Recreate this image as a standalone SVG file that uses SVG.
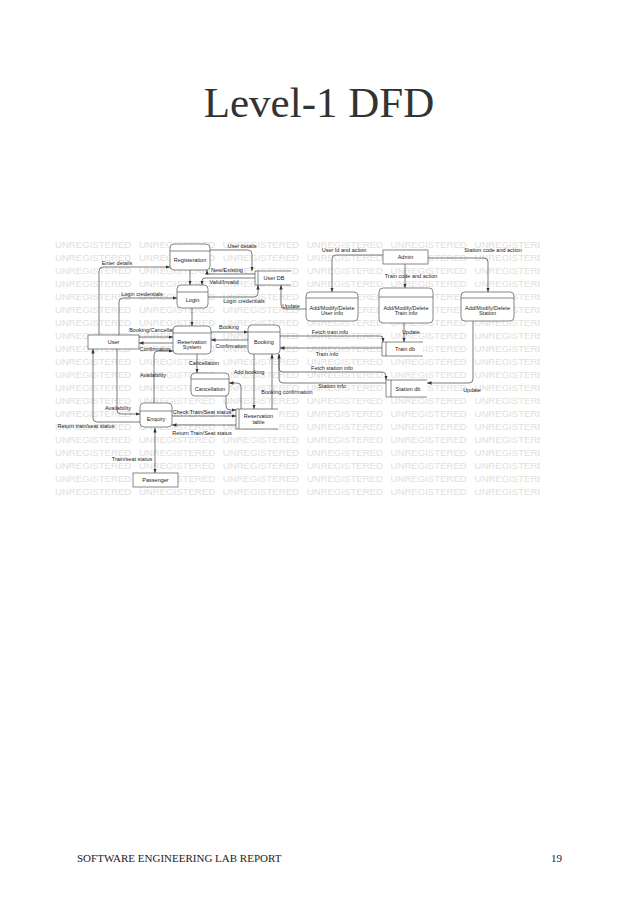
<svg xmlns="http://www.w3.org/2000/svg" width="638" height="903" viewBox="0 0 638 903">
<defs>
<marker id="a" viewBox="0 0 8 6" refX="8" refY="3" markerWidth="4.5" markerHeight="3.4" orient="auto-start-reverse" markerUnits="userSpaceOnUse"><path d="M0,0 L8,3 L0,6 z" fill="#333"/></marker>
<clipPath id="wmclip"><rect x="55" y="236" width="485" height="262"/></clipPath>
<style>
.n rect,.n line{fill:#fff;stroke:#555;stroke-width:0.7}
.ds rect{fill:#fff;stroke:none}
.ds path{fill:none;stroke:#555;stroke-width:0.7}
.t{font-family:"Liberation Sans",Arial,sans-serif;font-size:5.5px;fill:#222;text-anchor:middle}
.c path{fill:none;stroke:#444;stroke-width:0.7;marker-end:url(#a)}
.lbl{font-family:"Liberation Sans",Arial,sans-serif;font-size:5.5px;fill:#222;text-anchor:middle}
.wm{font-family:"Liberation Sans",Arial,sans-serif;font-size:9.6px;fill:#e0e0e0;word-spacing:5px}
</style>
</defs>
<rect width="638" height="903" fill="#fff"/>
<text x="319" y="117" font-family="Liberation Serif,'Times New Roman',serif" font-size="43" fill="#333" text-anchor="middle">Level-1 DFD</text>

<g id="watermark" clip-path="url(#wmclip)">
<text class="wm" x="55" y="247.6">UNREGISTERED UNREGISTERED UNREGISTERED UNREGISTERED UNREGISTERED UNREGISTERED</text>
<text class="wm" x="55" y="260.6">UNREGISTERED UNREGISTERED UNREGISTERED UNREGISTERED UNREGISTERED UNREGISTERED</text>
<text class="wm" x="55" y="273.6">UNREGISTERED UNREGISTERED UNREGISTERED UNREGISTERED UNREGISTERED UNREGISTERED</text>
<text class="wm" x="55" y="286.6">UNREGISTERED UNREGISTERED UNREGISTERED UNREGISTERED UNREGISTERED UNREGISTERED</text>
<text class="wm" x="55" y="299.6">UNREGISTERED UNREGISTERED UNREGISTERED UNREGISTERED UNREGISTERED UNREGISTERED</text>
<text class="wm" x="55" y="312.6">UNREGISTERED UNREGISTERED UNREGISTERED UNREGISTERED UNREGISTERED UNREGISTERED</text>
<text class="wm" x="55" y="325.6">UNREGISTERED UNREGISTERED UNREGISTERED UNREGISTERED UNREGISTERED UNREGISTERED</text>
<text class="wm" x="55" y="338.6">UNREGISTERED UNREGISTERED UNREGISTERED UNREGISTERED UNREGISTERED UNREGISTERED</text>
<text class="wm" x="55" y="351.6">UNREGISTERED UNREGISTERED UNREGISTERED UNREGISTERED UNREGISTERED UNREGISTERED</text>
<text class="wm" x="55" y="364.6">UNREGISTERED UNREGISTERED UNREGISTERED UNREGISTERED UNREGISTERED UNREGISTERED</text>
<text class="wm" x="55" y="377.6">UNREGISTERED UNREGISTERED UNREGISTERED UNREGISTERED UNREGISTERED UNREGISTERED</text>
<text class="wm" x="55" y="390.6">UNREGISTERED UNREGISTERED UNREGISTERED UNREGISTERED UNREGISTERED UNREGISTERED</text>
<text class="wm" x="55" y="403.6">UNREGISTERED UNREGISTERED UNREGISTERED UNREGISTERED UNREGISTERED UNREGISTERED</text>
<text class="wm" x="55" y="416.6">UNREGISTERED UNREGISTERED UNREGISTERED UNREGISTERED UNREGISTERED UNREGISTERED</text>
<text class="wm" x="55" y="429.6">UNREGISTERED UNREGISTERED UNREGISTERED UNREGISTERED UNREGISTERED UNREGISTERED</text>
<text class="wm" x="55" y="442.6">UNREGISTERED UNREGISTERED UNREGISTERED UNREGISTERED UNREGISTERED UNREGISTERED</text>
<text class="wm" x="55" y="455.6">UNREGISTERED UNREGISTERED UNREGISTERED UNREGISTERED UNREGISTERED UNREGISTERED</text>
<text class="wm" x="55" y="468.6">UNREGISTERED UNREGISTERED UNREGISTERED UNREGISTERED UNREGISTERED UNREGISTERED</text>
<text class="wm" x="55" y="481.6">UNREGISTERED UNREGISTERED UNREGISTERED UNREGISTERED UNREGISTERED UNREGISTERED</text>
<text class="wm" x="55" y="494.6">UNREGISTERED UNREGISTERED UNREGISTERED UNREGISTERED UNREGISTERED UNREGISTERED</text>
</g>

<g id="connectors" class="c">
<path d="M99,335 V271 Q99,267 103,267 H170"/>
<path d="M119,335 V302 Q119,298 123,298 H177"/>
<path d="M139,337 H173"/>
<path d="M173,343 H139"/>
<path d="M211,332 H248"/>
<path d="M248,340 H211"/>
<path d="M190,270 V285"/>
<path d="M255,278 H205 Q202,278 202,281 V285"/>
<path d="M255,274 H207 V270"/>
<path d="M210,250 H248 Q252,250 252,254 V271"/>
<path d="M208,297 H254 Q258,297 258,293 V285"/>
<path d="M306,309 H285 Q281,309 281,305 V285"/>
<path d="M383,255 H336 Q332,255 332,259 V292"/>
<path d="M405,264 V288"/>
<path d="M428,258 H484 Q488,258 488,262 V292"/>
<path d="M404,323 V342"/>
<path d="M473,321 V379 Q473,383 469,383 H427"/>
<path d="M280,336 H380 Q383,336 383,339 V342"/>
<path d="M382,348 H280"/>
<path d="M279,354 V368 Q279,372 283,372 H382 Q386,372 386,376 V380"/>
<path d="M386,383 H283 Q279,383 279,379 V354"/>
<path d="M254,354 V409"/>
<path d="M272,409 V354"/>
<path d="M197,354 V373"/>
<path d="M226,396 V406 Q226,410 230,410 H236"/>
<path d="M241,409 V387 Q241,383 237,383 H229"/>
<path d="M172,416 H236"/>
<path d="M236,425 H172"/>
<path d="M117,349 V410 Q117,414 121,414 H140"/>
<path d="M140,422 H97 Q93,422 93,418 V349"/>
<path d="M154,403 V355 Q154,351 158,351 H173"/>
<path d="M192,308 V326"/>
<path d="M155,428 V473" marker-start="url(#a)"/>
</g>

<g id="labels">
<text class="lbl" x="117" y="265">Enter details</text>
<text class="lbl" x="142" y="296">Login credentials</text>
<text class="lbl" x="155" y="331.5">Booking/Cancellation</text>
<text class="lbl" x="155" y="350.5">Confirmation</text>
<text class="lbl" x="229" y="328.5">Booking</text>
<text class="lbl" x="231" y="348">Confirmation</text>
<text class="lbl" x="242" y="248">User details</text>
<text class="lbl" x="227" y="272">New/Existing</text>
<text class="lbl" x="224" y="283.5">Valid/Invalid</text>
<text class="lbl" x="244" y="302.5">Login credentials</text>
<text class="lbl" x="291" y="307.5">Update</text>
<text class="lbl" x="344" y="252">User Id and action</text>
<text class="lbl" x="411" y="278">Train code and action</text>
<text class="lbl" x="493" y="252">Station code and action</text>
<text class="lbl" x="411" y="334">Update</text>
<text class="lbl" x="472" y="391.5">Update</text>
<text class="lbl" x="330" y="334">Fetch train info</text>
<text class="lbl" x="327" y="356">Train info</text>
<text class="lbl" x="332" y="370">Fetch station info</text>
<text class="lbl" x="332" y="387.5">Station info</text>
<text class="lbl" x="249" y="373.5">Add booking</text>
<text class="lbl" x="287" y="394">Booking confirmation</text>
<text class="lbl" x="204" y="365">Cancellation</text>
<text class="lbl" x="202" y="414">Check Train/Seat status</text>
<text class="lbl" x="202" y="435">Return Train/Seat status</text>
<text class="lbl" x="118" y="410">Availability</text>
<text class="lbl" x="86" y="427.5">Return train/seat status</text>
<text class="lbl" x="153" y="377">Availability</text>
<text class="lbl" x="132" y="461">Train/seat status</text>
</g>

<g id="registeration" class="n"><rect x="170" y="244" width="40" height="26" rx="4"/><line x1="170" y1="251" x2="210" y2="251"/><text class="t" x="190" y="262">Registeration</text></g>
<g id="login" class="n"><rect x="177" y="285" width="31" height="23" rx="4"/><line x1="177" y1="292" x2="208" y2="292"/><text class="t" x="192.5" y="302">Login</text></g>
<g id="reservation-system" class="n"><rect x="173" y="326" width="38" height="28" rx="4"/><line x1="173" y1="333" x2="211" y2="333"/><text class="t" x="192" y="343.5">Reservation</text><text class="t" x="192" y="349">System</text></g>
<g id="booking" class="n"><rect x="248" y="325" width="32" height="29" rx="4"/><line x1="248" y1="332" x2="280" y2="332"/><text class="t" x="264" y="344">Booking</text></g>
<g id="cancellation" class="n"><rect x="191" y="373" width="38" height="23" rx="4"/><line x1="191" y1="379" x2="229" y2="379"/><text class="t" x="210" y="391">Cancellation</text></g>
<g id="enquiry" class="n"><rect x="140" y="403" width="32" height="24" rx="4"/><line x1="140" y1="411" x2="172" y2="411"/><text class="t" x="156" y="421">Enquiry</text></g>
<g id="amd-user" class="n"><rect x="306" y="292" width="52" height="29" rx="4"/><line x1="306" y1="298" x2="358" y2="298"/><text class="t" x="332" y="309.5">Add/Modify/Delete</text><text class="t" x="332" y="315">User info</text></g>
<g id="amd-train" class="n"><rect x="379" y="288" width="54" height="35" rx="4"/><line x1="379" y1="297" x2="433" y2="297"/><text class="t" x="406" y="309.5">Add/Modify/Delete</text><text class="t" x="406" y="315">Train info</text></g>
<g id="amd-station" class="n"><rect x="461" y="292" width="53" height="29" rx="4"/><line x1="461" y1="298" x2="514" y2="298"/><text class="t" x="487.5" y="309.5">Add/Modify/Delete</text><text class="t" x="487.5" y="315">Station</text></g>

<g id="user" class="n"><rect x="88" y="335" width="51" height="14"/><text class="t" x="113.5" y="344">User</text></g>
<g id="admin" class="n"><rect x="383" y="250" width="45" height="14"/><text class="t" x="405.5" y="259">Admin</text></g>
<g id="passenger" class="n"><rect x="133" y="473" width="45" height="14"/><text class="t" x="155.5" y="482">Passenger</text></g>

<g id="user-db" class="ds"><rect x="255" y="271" width="36" height="14"/><path d="M291,271 H255 V285 H291 M258,271 V285"/><text class="t" x="274" y="280">User DB</text></g>
<g id="train-db" class="ds"><rect x="382" y="342" width="41" height="14"/><path d="M423,342 H382 V356 H423 M386,342 V356"/><text class="t" x="405" y="351">Train db</text></g>
<g id="station-db" class="ds"><rect x="386" y="380" width="41" height="17"/><path d="M427,380 H386 V397 H427 M391,380 V397"/><text class="t" x="408" y="390.5">Station db</text></g>
<g id="reservation-table" class="ds"><rect x="236" y="409" width="42" height="20"/><path d="M278,409 H236 V429 H278 M239,409 V429"/><text class="t" x="258.5" y="418">Reservation</text><text class="t" x="258.5" y="423.5">table</text></g>

<text x="77" y="862" font-family="Liberation Serif,'Times New Roman',serif" font-size="11" fill="#222">SOFTWARE ENGINEERING LAB REPORT</text>
<text x="562" y="862" font-family="Liberation Serif,'Times New Roman',serif" font-size="11" fill="#222" text-anchor="end">19</text>
</svg>
